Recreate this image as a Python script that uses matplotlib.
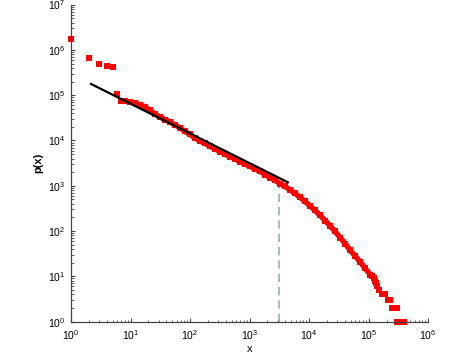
import numpy as np
import matplotlib
matplotlib.use("Agg")
import matplotlib.pyplot as plt

plt.rcParams['font.family'] = ['Liberation Sans', 'DejaVu Sans']

# first few (small x) points
head_x = [1, 2, 3, 4, 5, 6]
head_y = [1.74e6, 6.5e5, 4.9e5, 4.35e5, 4.15e5, 1.07e5]

# dense body of the distribution
body_x = [7, 8.1, 9.8, 11.9, 14.4, 17.5, 21.3, 25.8, 31.3, 38, 46, 56, 68, 82,
          100, 121, 147, 179, 217, 263, 319, 387, 470, 570, 692, 840, 1019,
          1236, 1500, 1824, 2213, 2685, 3258, 3953, 4797, 5821, 7063, 8570,
          10400, 12620, 15310, 18580, 22540, 27350, 33190, 40270, 48870,
          59290, 71940, 87300, 105900, 115000, 122000, 128000]
body_y = [7.45e4, 7.3e4, 7.1e4, 6.7e4, 6.2e4, 5.5e4, 4.6e4, 3.85e4, 3.3e4,
          2.9e4, 2.56e4, 2.2e4, 1.89e4, 1.58e4, 1.36e4, 1.13e4, 9.7e3, 8.6e3,
          7.4e3, 6.5e3, 5.7e3, 5.0e3, 4.4e3, 3.9e3, 3.4e3, 3.0e3, 2.67e3,
          2.35e3, 2.07e3, 1.77e3, 1.52e3, 1.31e3, 1.12e3, 966, 807, 676, 552,
          450, 358, 285, 221, 171, 130, 98, 72, 53, 38, 28, 21, 15, 11, 10, 9, 8]

# tail: small integer counts
tail_x = [135000, 140000, 148000, 152000, 170000, 178000, 186000,
          208000, 220000, 232000, 245000, 260000, 280000, 295000,
          300000, 330000, 360000, 400000]
tail_y = [7, 6, 5, 5, 4, 4, 4, 3, 3, 3, 2, 2, 2, 2, 1, 1, 1, 1]

# power-law fit and x_min
fit_x = [2.17, 4390]
fit_y = [1.77e5, 1195]
xmin_val = 3130
xmin_top = 1100

fig = plt.figure(figsize=(4.74, 3.53), dpi=100)
ax = fig.add_axes([0.1498, 0.0887, 0.7534, 0.8983])

ax.plot(body_x, body_y, '-', color='#ff0000', lw=3.9, zorder=2, clip_on=False)
for xs, ys in [(head_x, head_y), (body_x, body_y), (tail_x, tail_y)]:
    ax.plot(xs, ys, 's', color='#ff0000', ms=4.1, mew=0, zorder=3, clip_on=False)

ax.plot(fit_x, fit_y, '-', color='black', lw=1.6, zorder=4)
ax.plot([xmin_val, xmin_val], [1, xmin_top], '--', color='#8fb0cc', lw=1.2,
        dashes=(5, 3), zorder=1)

ax.set_xscale('log')
ax.set_yscale('log')
ax.set_xlim(1, 1e6)
ax.set_ylim(1, 1e7)
ax.xaxis.set_major_locator(matplotlib.ticker.LogLocator(base=10, numticks=10))
ax.yaxis.set_major_locator(matplotlib.ticker.LogLocator(base=10, numticks=10))
ax.xaxis.set_minor_locator(matplotlib.ticker.LogLocator(base=10, subs=np.arange(2, 10), numticks=20))
ax.yaxis.set_minor_locator(matplotlib.ticker.LogLocator(base=10, subs=np.arange(2, 10), numticks=20))

for s in ['top', 'right']:
    ax.spines[s].set_visible(False)
for s in ['left', 'bottom']:
    ax.spines[s].set_color('#444444')
    ax.spines[s].set_linewidth(0.9)
    ax.spines[s].set_zorder(5)

ax.tick_params(which='both', direction='in', colors='#444444', labelcolor='black',
               labelsize=7.5)
ax.tick_params(which='major', length=3, width=0.8)
ax.tick_params(axis='x', which='major', pad=5)
ax.tick_params(axis='y', which='major', pad=4)
ax.tick_params(which='minor', length=1.8, width=0.6)

ax.set_ylabel('p(x)', fontsize=8, fontweight='bold', labelpad=3)
ax.set_xlabel('x', fontsize=8, labelpad=1)

fig.savefig('out.png', dpi=100)
